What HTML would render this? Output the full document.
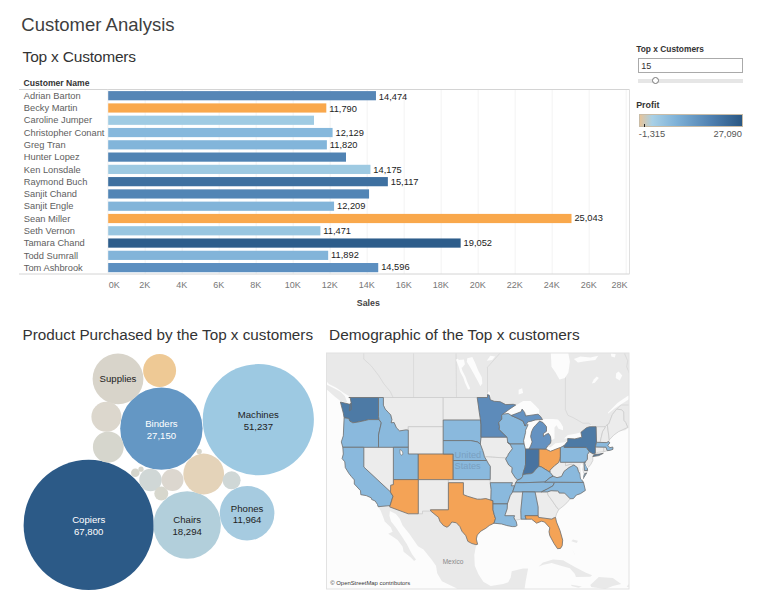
<!DOCTYPE html>
<html><head><meta charset="utf-8">
<style>
html,body{margin:0;padding:0;background:#fff;}
body{width:768px;height:608px;overflow:hidden;position:relative;font-family:"Liberation Sans", sans-serif;}
.abs{position:absolute;white-space:nowrap;}
svg text{font-family:"Liberation Sans", sans-serif;}
.nm{font-size:9.3px;fill:#5e5e5e;}
.vl{font-size:9.3px;fill:#222;}
.ax{font-size:9px;fill:#777;}
.sales{font-size:8.8px;font-weight:bold;fill:#444;}
.bl{font-size:9.6px;}
</style></head>
<body>
<div class="abs" style="left:21.3px;top:12.7px;font-size:18.5px;color:#3e3e3e;line-height:24px">Customer Analysis</div>
<div class="abs" style="left:22.6px;top:46.6px;font-size:15.5px;letter-spacing:-0.2px;color:#333;line-height:20px">Top x Customers</div>
<div class="abs" style="left:23.6px;top:77px;font-size:8.6px;font-weight:bold;color:#333;line-height:12px">Customer Name</div>
<div class="abs" style="left:636.2px;top:42.8px;font-size:8.4px;font-weight:bold;color:#333;line-height:12px">Top x Customers</div>
<div class="abs" style="left:638px;top:58.2px;width:102.6px;height:12.6px;border:1px solid #aaa;box-sizing:content-box"></div>
<div class="abs" style="left:641.2px;top:60px;font-size:9px;color:#333;line-height:12px">15</div>
<div class="abs" style="left:638px;top:79.4px;width:104.5px;height:3.5px;background:#e6e6e6"></div>
<div class="abs" style="left:651.9px;top:77.1px;width:5px;height:5px;border:1px solid #777;border-radius:50%;background:#fff"></div>
<div class="abs" style="left:636.2px;top:98.6px;font-size:8.9px;font-weight:bold;color:#333;line-height:12px">Profit</div>
<div class="abs" style="left:639px;top:114.4px;width:101.7px;height:10.2px;border:0.6px solid #c9bca6;background:linear-gradient(to right,#e6c49a 0%,#a8d0e6 12%,#7fb2d8 35%,#4f80b0 70%,#2a5783 100%)"></div>
<div class="abs" style="left:644px;top:123.5px;width:1px;height:3px;background:#222"></div>
<div class="abs" style="left:638.8px;top:128px;font-size:9.3px;color:#555;line-height:12px">-1,315</div>
<div class="abs" style="left:713.5px;top:128px;font-size:9.3px;color:#555;line-height:12px">27,090</div>
<div class="abs" style="left:22.6px;top:325.2px;font-size:15.25px;color:#333;line-height:20px">Product Purchased by the Top x customers</div>
<div class="abs" style="left:329.1px;top:325.1px;font-size:15.42px;color:#333;line-height:20px">Demographic of the Top x customers</div>
<svg class="abs" style="left:0;top:0" width="768" height="608" viewBox="0 0 768 608">
<line x1="145.2" y1="89.5" x2="145.2" y2="274" stroke="#f3f3f3" stroke-width="1"/>
<line x1="182.2" y1="89.5" x2="182.2" y2="274" stroke="#f3f3f3" stroke-width="1"/>
<line x1="219.2" y1="89.5" x2="219.2" y2="274" stroke="#f3f3f3" stroke-width="1"/>
<line x1="256.2" y1="89.5" x2="256.2" y2="274" stroke="#f3f3f3" stroke-width="1"/>
<line x1="293.2" y1="89.5" x2="293.2" y2="274" stroke="#f3f3f3" stroke-width="1"/>
<line x1="330.2" y1="89.5" x2="330.2" y2="274" stroke="#f3f3f3" stroke-width="1"/>
<line x1="367.2" y1="89.5" x2="367.2" y2="274" stroke="#f3f3f3" stroke-width="1"/>
<line x1="404.2" y1="89.5" x2="404.2" y2="274" stroke="#f3f3f3" stroke-width="1"/>
<line x1="441.2" y1="89.5" x2="441.2" y2="274" stroke="#f3f3f3" stroke-width="1"/>
<line x1="478.2" y1="89.5" x2="478.2" y2="274" stroke="#f3f3f3" stroke-width="1"/>
<line x1="515.2" y1="89.5" x2="515.2" y2="274" stroke="#f3f3f3" stroke-width="1"/>
<line x1="552.2" y1="89.5" x2="552.2" y2="274" stroke="#f3f3f3" stroke-width="1"/>
<line x1="589.2" y1="89.5" x2="589.2" y2="274" stroke="#f3f3f3" stroke-width="1"/>
<line x1="626.2" y1="89.5" x2="626.2" y2="274" stroke="#f3f3f3" stroke-width="1"/>
<line x1="19" y1="89.5" x2="629.5" y2="89.5" stroke="#d4d4d4" stroke-width="1"/>
<line x1="19" y1="274" x2="629.5" y2="274" stroke="#d4d4d4" stroke-width="1"/>
<line x1="629.5" y1="89.5" x2="629.5" y2="274" stroke="#e0e0e0" stroke-width="1"/>
<line x1="107.9" y1="89.5" x2="107.9" y2="274" stroke="#ededed" stroke-width="0.8"/>
<rect x="108.2" y="91.10" width="267.77" height="9.2" fill="#5686b6"/>
<text x="23.8" y="98.90" class="nm">Adrian Barton</text>
<text x="378.87" y="99.60" class="vl">14,474</text>
<rect x="108.2" y="103.38" width="218.11" height="9.2" fill="#f9a84c"/>
<text x="23.8" y="111.18" class="nm">Becky Martin</text>
<text x="329.21" y="111.78" class="vl">11,790</text>
<rect x="108.2" y="115.66" width="205.79" height="9.2" fill="#9fcbe3"/>
<text x="23.8" y="123.46" class="nm">Caroline Jumper</text>
<rect x="108.2" y="127.94" width="224.39" height="9.2" fill="#86b8dc"/>
<text x="23.8" y="135.74" class="nm">Christopher Conant</text>
<text x="335.49" y="136.14" class="vl">12,129</text>
<rect x="108.2" y="140.22" width="218.67" height="9.2" fill="#82b5da"/>
<text x="23.8" y="148.02" class="nm">Greg Tran</text>
<text x="329.77" y="148.32" class="vl">11,820</text>
<rect x="108.2" y="152.50" width="237.80" height="9.2" fill="#5083b3"/>
<text x="23.8" y="160.30" class="nm">Hunter Lopez</text>
<rect x="108.2" y="164.78" width="262.24" height="9.2" fill="#9ecae2"/>
<text x="23.8" y="172.58" class="nm">Ken Lonsdale</text>
<text x="373.34" y="172.68" class="vl">14,175</text>
<rect x="108.2" y="177.06" width="279.66" height="9.2" fill="#3e70a0"/>
<text x="23.8" y="184.86" class="nm">Raymond Buch</text>
<text x="390.76" y="184.86" class="vl">15,117</text>
<rect x="108.2" y="189.34" width="260.85" height="9.2" fill="#5285b5"/>
<text x="23.8" y="197.14" class="nm">Sanjit Chand</text>
<rect x="108.2" y="201.62" width="225.87" height="9.2" fill="#82b4d9"/>
<text x="23.8" y="209.42" class="nm">Sanjit Engle</text>
<text x="336.97" y="209.22" class="vl">12,209</text>
<rect x="108.2" y="213.90" width="463.30" height="9.2" fill="#f9a84c"/>
<text x="23.8" y="221.70" class="nm">Sean Miller</text>
<text x="574.40" y="221.40" class="vl">25,043</text>
<rect x="108.2" y="226.18" width="212.21" height="9.2" fill="#99c6e0"/>
<text x="23.8" y="233.98" class="nm">Seth Vernon</text>
<text x="323.31" y="233.58" class="vl">11,471</text>
<rect x="108.2" y="238.46" width="352.46" height="9.2" fill="#2d5d8b"/>
<text x="23.8" y="246.26" class="nm">Tamara Chand</text>
<text x="463.56" y="245.76" class="vl">19,052</text>
<rect x="108.2" y="250.74" width="220.00" height="9.2" fill="#82b4d9"/>
<text x="23.8" y="258.54" class="nm">Todd Sumrall</text>
<text x="331.10" y="257.94" class="vl">11,892</text>
<rect x="108.2" y="263.02" width="270.03" height="9.2" fill="#5c8fc0"/>
<text x="23.8" y="270.82" class="nm">Tom Ashbrook</text>
<text x="381.13" y="270.12" class="vl">14,596</text>
<text x="108.8" y="288.0" class="ax">0K</text>
<text x="144.8" y="288.0" class="ax" text-anchor="middle">2K</text>
<text x="181.8" y="288.0" class="ax" text-anchor="middle">4K</text>
<text x="218.8" y="288.0" class="ax" text-anchor="middle">6K</text>
<text x="255.8" y="288.0" class="ax" text-anchor="middle">8K</text>
<text x="292.8" y="288.0" class="ax" text-anchor="middle">10K</text>
<text x="329.8" y="288.0" class="ax" text-anchor="middle">12K</text>
<text x="366.8" y="288.0" class="ax" text-anchor="middle">14K</text>
<text x="403.8" y="288.0" class="ax" text-anchor="middle">16K</text>
<text x="440.8" y="288.0" class="ax" text-anchor="middle">18K</text>
<text x="477.8" y="288.0" class="ax" text-anchor="middle">20K</text>
<text x="514.8" y="288.0" class="ax" text-anchor="middle">22K</text>
<text x="551.8" y="288.0" class="ax" text-anchor="middle">24K</text>
<text x="588.8" y="288.0" class="ax" text-anchor="middle">26K</text>
<text x="627.4" y="288.0" class="ax" text-anchor="end">28K</text>
<text x="368.3" y="305.9" class="sales" text-anchor="middle">Sales</text>
<circle cx="88.7" cy="524.9" r="65.1" fill="#2c5a87"/>
<text x="88.7" y="523.1" class="bl" fill="#fff" text-anchor="middle">Copiers</text>
<text x="88.7" y="534.9" class="bl" fill="#fff" text-anchor="middle">67,800</text>
<circle cx="258.3" cy="419.7" r="55.6" fill="#9dc9e2"/>
<text x="258.3" y="417.9" class="bl" fill="#222" text-anchor="middle">Machines</text>
<text x="258.3" y="429.7" class="bl" fill="#222" text-anchor="middle">51,237</text>
<circle cx="161.4" cy="428.6" r="41.2" fill="#6497c4"/>
<text x="161.4" y="426.8" class="bl" fill="#fff" text-anchor="middle">Binders</text>
<text x="161.4" y="438.6" class="bl" fill="#fff" text-anchor="middle">27,150</text>
<circle cx="187.2" cy="525.0" r="33.7" fill="#b2cfdb"/>
<text x="187.2" y="523.2" class="bl" fill="#222" text-anchor="middle">Chairs</text>
<text x="187.2" y="535.0" class="bl" fill="#222" text-anchor="middle">18,294</text>
<circle cx="247.1" cy="513.3" r="27.3" fill="#a6cbe0"/>
<text x="247.1" y="511.5" class="bl" fill="#222" text-anchor="middle">Phones</text>
<text x="247.1" y="523.3" class="bl" fill="#222" text-anchor="middle">11,964</text>
<circle cx="118.0" cy="378.9" r="25.4" fill="#d8d4ca"/>
<text x="118.0" y="382.2" class="bl" fill="#222" text-anchor="middle">Supplies</text>
<circle cx="159.6" cy="370.5" r="16.5" fill="#eec995"/>
<circle cx="106.4" cy="416.8" r="15.0" fill="#dcd7cd"/>
<circle cx="108.3" cy="447.0" r="15.4" fill="#d6d6cd"/>
<circle cx="203.7" cy="474.0" r="20.4" fill="#e4d3b9"/>
<circle cx="150.5" cy="480.0" r="11.3" fill="#d0d7d6"/>
<circle cx="172.5" cy="480.0" r="11.0" fill="#dcd7cf"/>
<circle cx="161.3" cy="493.6" r="7.0" fill="#d7d7cd"/>
<circle cx="231.6" cy="480.3" r="9.0" fill="#cfd7d6"/>
<circle cx="135.3" cy="472.8" r="4.3" fill="#d5d5cc"/>
<circle cx="141.0" cy="469.2" r="2.6" fill="#d5d5cc"/>
<circle cx="199.2" cy="451.4" r="2.6" fill="#d5d5cc"/>
<defs><clipPath id="mc"><rect x="326.5" y="353" width="302.5" height="236"/></clipPath></defs>
<rect x="326.5" y="353" width="302.5" height="236" fill="#fcfcfc"/>
<g clip-path="url(#mc)">
<path d="M264.2 281.9L662.6 281.9L662.6 418.2L640.1 422.5L632.7 426.7L628.2 428.1L625.2 430.2L618.7 431.6L613.8 435.1L611.3 436.5L609.3 439.9L608.8 441.6L609.8 442.9L607.8 445.3L609.8 447.7L612.8 447.0L613.0 449.3L610.3 450.3L607.3 450.7L603.3 452.0L598.3 452.3L594.3 454.0L592.8 456.6L592.8 460.5L590.8 464.4L588.4 467.3L587.4 468.3L587.6 470.5L586.6 473.1L583.1 478.7L582.9 479.6L583.5 482.4L585.4 490.4L580.4 493.7L576.4 495.0L573.4 498.6L570.2 498.8L566.9 502.8L563.0 506.3L558.7 509.6L556.5 513.9L555.5 517.4L556.5 522.0L560.0 530.6L562.7 540.1L562.2 545.7L560.5 548.4L557.5 548.7L554.0 543.5L549.8 535.7L549.0 531.7L549.8 527.8L544.5 522.0L541.5 521.2L536.6 523.2L531.6 519.2L526.1 519.2L521.1 519.2L515.2 520.3L516.1 521.2L517.1 525.5L515.2 526.6L512.2 526.6L506.7 525.5L501.7 524.0L494.0 523.2L489.3 525.5L485.8 528.3L480.8 531.2L477.3 535.1L476.3 539.0L477.6 544.3L475.8 546.8L474.3 555.0L474.8 565.8L478.3 573.9L483.3 581.8L490.7 586.0L503.2 583.9L508.2 582.3L510.7 577.6L511.7 571.2L523.1 568.5L528.1 568.5L525.6 581.8L524.1 592.3L524.1 628.1L463.9 628.1L463.9 593.0L455.9 588.1L441.9 581.3L437.2 573.3L436.0 565.8L431.5 559.4L423.5 549.5L418.0 546.2L409.1 533.4L402.6 525.5L399.6 518.6L395.9 513.9L389.9 511.0L389.4 515.7L391.1 521.5L395.9 527.5L402.1 536.8L406.8 544.0L410.1 550.6L412.1 554.2L416.0 559.4L414.1 561.0L411.1 557.7L403.6 551.7L402.6 546.8L397.6 540.1L392.1 536.2L388.2 533.7L392.6 531.7L390.7 527.2L384.7 521.5L383.7 518.6L380.7 510.7L378.1 506.7L377.5 504.5L375.2 501.0L371.7 499.5L371.2 497.8L366.2 495.6L360.8 494.7L360.5 490.7L354.3 484.0L354.3 479.9L351.3 476.5L348.8 473.3L345.3 467.6L344.8 461.8L342.1 458.6L343.3 454.0L342.8 447.3L341.3 441.9L343.3 435.8L344.1 417.8L343.3 413.1L340.4 402.0L348.3 403.9L350.1 404.3L351.1 402.8L350.1 397.5L348.8 396.0L344.3 393.3L339.9 390.2L335.9 387.5L328.9 384.0L324.9 379.6L322.9 371.6L318.9 364.2L313.0 354.9L309.0 340.1Z" fill="#e9e9e9"/>
<path d="M347.3 402.4L340.4 400.9L334.9 396.7L327.9 390.6L322.4 385.9L321.9 383.6L327.4 385.0L335.4 388.9L340.4 391.8L344.8 396.0Z" fill="#e9e9e9"/>
<path d="M538.6 566.4L543.0 562.6L553.0 559.6L563.0 560.2L575.4 567.2L585.4 572.5L592.1 575.2L590.3 576.8L575.9 577.0L574.9 573.9L569.9 568.3L560.0 565.6L551.5 562.9L543.5 564.8Z" fill="#e9e9e9"/>
<path d="M590.3 584.9L598.8 577.0L612.8 578.1L621.2 583.9L612.8 586.0L605.3 589.1L591.3 587.0Z" fill="#e9e9e9"/>
<path d="M571.4 584.7L581.9 586.5L578.4 587.8L571.4 586.0Z" fill="#e9e9e9"/>
<path d="M628.2 584.4L634.7 584.9L633.7 587.0L626.7 587.0Z" fill="#e9e9e9"/>
<path d="M572.9 539.6L577.9 540.7L576.9 542.9L571.4 541.3Z" fill="#e9e9e9"/>
<path d="M571.9 548.4L574.4 553.4L575.4 556.1L573.4 551.7Z" fill="#e9e9e9"/>
<path d="M363.8 302.5L363.8 359.1L371.2 365.8L378.7 375.6L383.7 383.6L390.2 391.4L393.1 397.5" fill="none" stroke="#d0d0d0" stroke-width="0.6"/>
<path d="M413.6 397.5L413.6 302.5" fill="none" stroke="#d0d0d0" stroke-width="0.6"/>
<path d="M456.5 397.5L455.9 340.1" fill="none" stroke="#d0d0d0" stroke-width="0.6"/>
<path d="M487.5 394.6L487.5 367.2L518.1 332.9" fill="none" stroke="#d0d0d0" stroke-width="0.6"/>
<path d="M565.4 374.0L565.4 409.5L567.9 415.3L572.9 417.5L577.9 420.3L582.9 423.2L588.9 423.2L591.1 425.3" fill="none" stroke="#d0d0d0" stroke-width="0.6"/>
<path d="M605.3 426.7L607.3 424.6L608.8 423.9L612.3 414.6L616.7 409.1L621.7 409.8L623.7 412.0L623.8 420.3L625.7 422.5L627.7 427.4" fill="none" stroke="#d0d0d0" stroke-width="0.6"/>
<path d="M616.7 409.1L621.2 405.0L632.7 405.0" fill="none" stroke="#d0d0d0" stroke-width="0.6"/>
<path d="M629.7 374.0L626.7 366.7L627.7 360.8L624.7 354.0L625.7 348.9" fill="none" stroke="#d0d0d0" stroke-width="0.6"/>
<path d="M487.5 397.5L348.8 397.5" fill="none" stroke="#d0d0d0" stroke-width="0.6"/>
<path d="M363.8 447.3L393.4 447.3L393.4 479.6L393.4 484.6L390.7 485.2L390.5 491.9L363.8 467.0Z" fill="#ececec" stroke="#c8c8c8" stroke-width="0.7"/>
<path d="M383.4 397.5L443.2 397.5L443.2 426.7L408.3 426.7L408.3 430.2L406.1 429.9L399.6 430.9L396.4 427.8L394.1 422.5L391.1 422.8L391.9 419.6L390.7 414.9L388.7 412.8L385.2 409.1L383.4 405.2L383.4 397.5Z" fill="#ececec" stroke="#c8c8c8" stroke-width="0.7"/>
<path d="M408.3 426.7L443.2 426.7L443.2 454.0L408.3 454.0Z" fill="#ececec" stroke="#c8c8c8" stroke-width="0.7"/>
<path d="M418.3 479.6L448.4 479.6L448.4 509.8L430.4 509.8L430.8 511.1L422.5 511.1L422.5 513.8L418.3 513.8Z" fill="#ececec" stroke="#c8c8c8" stroke-width="0.7"/>
<path d="M443.2 397.5L477.2 397.5L478.3 405.0L479.3 412.4L480.5 420.0L443.2 420.0Z" fill="#ececec" stroke="#c8c8c8" stroke-width="0.7"/>
<path d="M448.4 479.6L490.2 479.6L491.1 489.5L490.8 500.1L485.8 498.6L480.8 499.2L477.3 499.2L473.3 498.0L467.3 496.2L463.4 494.6L463.4 482.7L448.4 482.7Z" fill="#ececec" stroke="#c8c8c8" stroke-width="0.7"/>
<path d="M481.0 437.2L507.1 437.2L507.7 442.6L510.0 444.0L512.4 448.7L508.4 454.0L507.7 455.9L506.1 458.0L484.4 456.7L483.8 454.0L482.8 450.7L480.3 444.0Z" fill="#ececec" stroke="#c8c8c8" stroke-width="0.7"/>
<path d="M484.4 456.7L506.1 458.0L505.7 459.2L508.7 465.0L512.2 467.6L511.7 472.1L515.2 477.7L517.6 479.9L515.6 482.7L514.7 485.8L511.3 485.8L512.4 482.7L490.2 482.7L490.2 479.6L490.3 466.3L488.5 463.8L486.7 460.5L484.4 456.7Z" fill="#ececec" stroke="#c8c8c8" stroke-width="0.7"/>
<path d="M507.4 503.9L510.2 495.6L512.7 491.9L522.1 491.9L522.6 492.5L520.8 510.4L521.1 519.2L515.2 520.3L513.9 517.7L514.5 515.7L504.9 515.7L505.2 514.5L507.2 508.7Z" fill="#ececec" stroke="#c8c8c8" stroke-width="0.7"/>
<path d="M535.1 492.0L547.5 491.9L548.0 495.0L552.0 500.4L556.0 506.3L558.7 509.6L556.5 513.9L555.5 517.4L553.0 518.3L552.0 519.2L538.6 517.4L538.1 515.7L538.1 506.9Z" fill="#ececec" stroke="#c8c8c8" stroke-width="0.7"/>
<path d="M547.5 491.9L551.0 490.7L557.8 491.0L558.5 491.3L559.1 493.0L564.6 493.1L570.2 498.8L566.9 502.8L563.0 506.3L558.7 509.6L556.0 506.3L552.0 500.4L548.0 495.0Z" fill="#ececec" stroke="#c8c8c8" stroke-width="0.7"/>
<path d="M550.0 472.3L553.1 476.2L557.0 477.7L561.5 476.5L564.0 471.4L568.9 467.6L573.9 465.0L574.3 464.9L571.2 464.1L565.5 465.6L565.5 462.3L560.4 462.3L560.4 456.3L560.0 458.6L558.7 462.5L554.5 465.7L550.0 470.2Z" fill="#ececec" stroke="#c8c8c8" stroke-width="0.7"/>
<path d="M565.5 462.3L584.0 462.3L584.4 470.5L587.6 470.5L586.6 473.1L584.6 473.7L582.9 471.4L581.4 465.7L580.4 470.8L581.4 474.0L578.4 471.4L577.4 467.6L573.9 465.0L574.3 464.9L571.2 464.1L565.5 465.6Z" fill="#ececec" stroke="#c8c8c8" stroke-width="0.7"/>
<path d="M589.4 451.7L593.3 454.0L592.8 456.6L592.8 460.5L590.8 464.4L588.4 467.3L585.4 463.1L587.4 459.2L587.4 454.6Z" fill="#ececec" stroke="#c8c8c8" stroke-width="0.7"/>
<path d="M595.3 447.0L603.8 447.2L603.8 451.7L598.3 452.3L594.3 454.0L595.3 453.3Z" fill="#ececec" stroke="#c8c8c8" stroke-width="0.7"/>
<path d="M603.8 447.2L605.9 447.2L607.3 450.7L603.8 451.7Z" fill="#ececec" stroke="#c8c8c8" stroke-width="0.7"/>
<path d="M596.1 426.7L605.3 426.7L605.3 427.4L602.6 431.6L600.1 442.4L596.5 442.3Z" fill="#ececec" stroke="#c8c8c8" stroke-width="0.7"/>
<path d="M605.3 426.7L607.3 424.6L609.3 439.9L608.8 441.6L606.3 442.6L600.1 442.4L602.6 431.6L605.3 427.4Z" fill="#ececec" stroke="#c8c8c8" stroke-width="0.7"/>
<path d="M607.3 424.6L608.8 423.9L612.3 414.6L616.7 409.1L621.7 409.8L623.7 412.0L623.8 420.3L625.7 422.5L627.7 427.4L618.7 431.6L613.8 435.1L609.3 439.9Z" fill="#ececec" stroke="#c8c8c8" stroke-width="0.7"/>
<path d="M502.7 414.2L508.2 413.1L513.2 414.9L518.1 413.5L521.1 411.3L522.1 409.1L524.6 412.4L528.1 415.7L533.1 414.7L538.1 414.0L540.1 416.0L539.1 412.8L539.1 409.5L535.6 405.8L530.6 400.9L523.1 400.9L516.6 405.0L510.2 408.7L505.7 411.3Z" fill="#fcfcfc"/>
<path d="M525.5 449.3L529.0 448.9L530.6 446.0L532.1 441.9L530.6 436.5L531.6 431.6L533.6 427.4L535.6 425.3L539.6 421.1L535.1 420.0L530.6 421.4L528.1 421.8L525.1 426.0L523.1 429.5L525.6 432.3L523.6 440.6L524.1 444.0Z" fill="#fcfcfc"/>
<path d="M551.0 440.6L550.5 436.5L548.5 433.4L546.0 434.4L543.5 436.5L543.3 433.7L546.5 431.3L546.5 426.7L543.0 422.5L539.6 421.1L542.5 419.6L545.5 418.9L553.0 418.9L558.0 419.6L560.5 422.5L563.0 426.7L563.0 430.2L558.5 428.8L556.5 425.3L554.5 427.4L554.5 433.7L554.5 438.5Z" fill="#fcfcfc"/>
<path d="M545.8 449.1L550.5 451.3L558.0 448.3L560.4 447.5L564.2 445.5L567.7 441.6L563.0 442.6L555.5 443.3L550.5 447.3L547.5 447.0Z" fill="#fcfcfc"/>
<path d="M567.7 438.5L574.9 438.9L581.9 437.2L580.9 432.3L575.4 433.7L567.9 435.1L564.0 438.5Z" fill="#fcfcfc"/>
<path d="M580.9 432.3L586.4 427.8L591.3 425.0L591.8 426.4L586.4 428.8L581.4 433.4Z" fill="#fcfcfc"/>
<path d="M607.8 412.8L617.7 402.8L627.7 396.0L640.1 390.6L640.1 395.2L630.2 398.6L615.2 408.0L608.3 413.5Z" fill="#fcfcfc"/>
<path d="M467.3 358.3L472.3 357.0L475.3 363.3L478.3 370.8L481.8 377.2L482.3 383.6L480.3 386.3L478.3 382.0L474.3 374.8L470.3 367.5L466.8 361.7Z" fill="#fcfcfc"/>
<path d="M486.8 360.8L492.2 360.0L495.2 356.6L490.3 355.8Z" fill="#fcfcfc"/>
<path d="M458.4 360.0L463.9 359.6L464.9 364.2L461.9 367.9L458.9 365.8Z" fill="#fcfcfc"/>
<path d="M487.3 394.5L490.7 396.7L489.8 392.1L488.3 391.4Z" fill="#fcfcfc"/>
<path d="M518.6 394.5L523.1 392.9L522.1 388.3L518.6 389.8Z" fill="#fcfcfc"/>
<path d="M551.5 366.7L555.5 372.4L559.5 379.6L565.0 378.0L568.4 372.4L569.9 361.7L567.9 350.6L550.5 347.1Z" fill="#fcfcfc"/>
<path d="M573.9 359.1L580.4 356.6L590.3 357.5L598.3 355.8L595.3 360.0L585.4 361.2L577.9 362.5Z" fill="#fcfcfc"/>
<path d="M596.8 376.4L598.8 378.0L594.8 382.8L591.8 383.6L593.8 379.6Z" fill="#fcfcfc"/>
<path d="M618.7 371.6L622.2 375.6L619.7 380.4L615.7 378.0L616.2 373.2Z" fill="#fcfcfc"/>
<path d="M610.8 353.2L615.7 354.0L614.8 357.5L611.3 356.6Z" fill="#fcfcfc"/>
<path d="M468.8 388.3L466.3 382.8L464.4 377.2L461.4 371.6L459.9 366.7L458.4 362.5L457.4 360.0" fill="none" stroke="#fcfcfc" stroke-width="2.4" stroke-linecap="round" stroke-linejoin="round"/>
<path d="M348.8 397.5L378.5 397.5L378.5 416.6L379.1 419.6L368.8 419.6L364.3 420.7L357.8 422.1L352.8 422.8L349.8 421.1L348.8 418.5L344.1 417.8L343.3 413.1L340.4 402.0L348.3 403.9L350.1 404.3L351.1 402.8L350.1 397.5Z" fill="#4d7aa5" stroke="#6e6e6e" stroke-width="0.8" stroke-linejoin="round"/>
<path d="M379.1 419.6L368.8 419.6L364.3 420.7L357.8 422.1L352.8 422.8L349.8 421.1L348.8 418.5L344.1 417.8L343.3 435.8L341.3 441.9L342.8 447.3L378.5 447.3L378.5 435.1L379.2 432.0L381.3 422.8Z" fill="#8ab9dd" stroke="#6e6e6e" stroke-width="0.8" stroke-linejoin="round"/>
<path d="M342.8 447.3L363.8 447.3L363.8 467.0L390.5 491.9L390.8 492.7L393.0 496.2L390.1 505.6L378.1 506.7L377.5 504.5L375.2 501.0L371.7 499.5L371.2 497.8L366.2 495.6L360.8 494.7L360.5 490.7L354.3 484.0L354.3 479.9L351.3 476.5L348.8 473.3L345.3 467.6L344.8 461.8L342.1 458.6L343.3 454.0L342.8 447.3Z" fill="#8ab9dd" stroke="#6e6e6e" stroke-width="0.8" stroke-linejoin="round"/>
<path d="M378.5 397.5L383.4 397.5L383.4 405.2L385.2 409.1L388.7 412.8L390.7 414.9L391.9 419.6L391.1 422.8L394.1 422.5L396.4 427.8L399.6 430.9L406.1 429.9L408.3 430.2L408.3 447.3L378.5 447.3L378.5 435.1L379.2 432.0L381.3 422.8L379.1 419.6L378.5 416.6Z" fill="#8ab9dd" stroke="#6e6e6e" stroke-width="0.8" stroke-linejoin="round"/>
<path d="M393.4 447.3L408.3 447.3L408.3 454.0L418.3 454.0L418.3 479.6L393.4 479.6Z" fill="#8ab9dd" stroke="#6e6e6e" stroke-width="0.8" stroke-linejoin="round"/>
<path d="M393.4 479.6L418.3 479.6L418.3 513.8L408.2 513.8L389.6 506.9L390.1 505.6L393.0 496.2L390.8 492.7L390.5 491.9L390.7 485.2L393.4 484.6L393.4 479.6Z" fill="#f4a356" stroke="#6e6e6e" stroke-width="0.8" stroke-linejoin="round"/>
<path d="M418.3 454.0L453.2 454.0L453.2 479.6L418.3 479.6Z" fill="#f4a356" stroke="#6e6e6e" stroke-width="0.8" stroke-linejoin="round"/>
<path d="M443.2 420.0L480.5 420.0L481.0 424.6L481.0 437.2L480.3 444.0L477.3 441.9L470.8 440.6L443.2 440.6Z" fill="#8ab9dd" stroke="#6e6e6e" stroke-width="0.8" stroke-linejoin="round"/>
<path d="M443.2 440.6L470.8 440.6L477.3 441.9L480.3 444.0L482.8 450.7L483.8 454.0L484.4 456.7L486.7 460.5L453.2 460.5L453.2 454.0L443.2 454.0Z" fill="#8ab9dd" stroke="#6e6e6e" stroke-width="0.8" stroke-linejoin="round"/>
<path d="M453.2 460.5L486.7 460.5L488.5 463.8L490.3 466.3L490.2 479.6L453.2 479.6Z" fill="#8ab9dd" stroke="#6e6e6e" stroke-width="0.8" stroke-linejoin="round"/>
<path d="M448.4 482.7L463.4 482.7L463.4 494.6L467.3 496.2L473.3 498.0L477.3 499.2L480.8 499.2L485.8 498.6L490.8 500.1L493.0 500.7L493.0 503.9L493.0 509.8L494.2 514.5L495.5 518.6L494.0 523.2L489.3 525.5L485.8 528.3L480.8 531.2L477.3 535.1L476.3 539.0L477.6 544.3L475.8 544.6L471.8 543.5L467.8 541.3L465.8 535.7L461.9 531.2L459.9 526.6L456.4 522.8L451.9 522.0L448.9 526.0L446.9 527.2L443.4 525.5L440.0 521.5L438.5 517.4L430.8 511.1L430.4 509.8L448.4 509.8Z" fill="#f4a356" stroke="#6e6e6e" stroke-width="0.8" stroke-linejoin="round"/>
<path d="M477.2 397.5L487.5 397.5L487.5 394.6L489.3 395.2L490.3 399.8L494.2 401.3L500.2 401.7L505.7 404.6L513.2 404.3L515.7 405.0L510.2 408.7L502.7 414.2L501.7 415.3L501.8 419.1L498.7 422.5L499.5 426.7L499.2 429.5L507.1 437.2L481.0 437.2L481.0 424.6L480.5 420.0L479.3 412.4L478.3 405.0Z" fill="#5d8bba" stroke="#6e6e6e" stroke-width="0.8" stroke-linejoin="round"/>
<path d="M490.2 482.7L512.4 482.7L511.3 485.8L514.7 485.8L512.7 491.9L510.2 495.6L507.4 503.9L493.0 503.9L493.0 500.7L490.8 500.1L491.1 489.5Z" fill="#8ab9dd" stroke="#6e6e6e" stroke-width="0.8" stroke-linejoin="round"/>
<path d="M493.0 503.9L507.4 503.9L507.2 508.7L505.2 514.5L504.9 515.7L514.5 515.7L513.9 517.7L515.2 520.3L516.1 521.2L517.1 525.5L515.2 526.6L512.2 526.6L506.7 525.5L501.7 524.0L494.0 523.2L495.5 518.6L494.2 514.5L493.0 509.8L493.0 503.9Z" fill="#8ab9dd" stroke="#6e6e6e" stroke-width="0.8" stroke-linejoin="round"/>
<path d="M501.8 419.1L501.7 415.3L502.7 414.2L508.2 413.5L511.2 415.5L518.1 418.5L523.1 421.1L525.1 426.0L526.6 425.0L528.1 424.6L525.6 430.2L525.6 432.3L523.6 440.6L524.1 444.0L510.0 444.0L507.7 442.6L507.1 437.2L499.2 429.5L499.5 426.7L498.7 422.5Z" fill="#8ab9dd" stroke="#6e6e6e" stroke-width="0.8" stroke-linejoin="round"/>
<path d="M510.0 444.0L524.1 444.0L525.5 449.3L525.5 464.4L524.9 467.9L523.6 471.4L522.9 474.6L522.6 476.5L520.6 479.0L517.6 479.9L515.2 477.7L511.7 472.1L512.2 467.6L508.7 465.0L505.7 459.2L506.1 458.0L507.7 455.9L508.4 454.0L512.4 448.7L510.0 444.0L507.7 442.6Z" fill="#8ab9dd" stroke="#6e6e6e" stroke-width="0.8" stroke-linejoin="round"/>
<path d="M525.5 448.9L539.1 448.9L539.0 466.3L536.1 468.9L533.1 472.7L530.6 473.7L526.6 474.0L522.9 474.6L523.6 471.4L524.9 467.9L525.5 464.4Z" fill="#4873a0" stroke="#6e6e6e" stroke-width="0.8" stroke-linejoin="round"/>
<path d="M539.1 448.9L545.8 449.1L550.5 451.3L558.0 448.3L560.4 447.5L560.4 456.3L560.0 458.6L558.7 462.5L554.5 465.7L550.0 470.2L550.0 472.3L545.0 469.2L541.5 467.0L539.0 466.3Z" fill="#f4a356" stroke="#6e6e6e" stroke-width="0.8" stroke-linejoin="round"/>
<path d="M529.0 448.9L539.1 448.9L545.8 449.1L547.5 446.0L550.5 443.3L551.0 440.6L550.5 436.5L548.5 433.4L546.0 434.4L543.5 436.5L543.3 433.7L546.5 431.3L546.5 426.7L543.0 422.5L539.6 421.1L535.6 425.3L533.6 427.4L531.6 431.6L530.6 436.5L532.1 441.9L530.6 446.0Z" fill="#6592c1" stroke="#6e6e6e" stroke-width="0.8" stroke-linejoin="round"/>
<path d="M511.2 415.5L515.6 413.8L521.1 411.7L522.1 409.1L524.6 412.4L525.6 416.0L533.1 414.9L538.1 414.2L540.5 416.4L542.5 419.6L538.1 419.6L535.1 420.0L530.6 421.4L528.1 421.8L525.1 426.0L523.1 421.1L518.1 418.5Z" fill="#6592c1" stroke="#6e6e6e" stroke-width="0.8" stroke-linejoin="round"/>
<path d="M515.6 482.7L522.9 482.7L544.6 482.1L550.0 477.7L553.1 476.2L550.0 472.3L545.0 469.2L541.5 467.0L539.0 466.3L536.1 468.9L533.1 472.7L530.6 473.7L526.6 474.0L522.9 474.6L522.6 476.5L520.6 479.0L517.6 479.9Z" fill="#8ab9dd" stroke="#6e6e6e" stroke-width="0.8" stroke-linejoin="round"/>
<path d="M512.7 491.9L522.1 491.9L541.4 491.9L547.5 488.9L553.0 485.8L554.6 482.2L544.6 482.1L522.9 482.7L515.6 482.7L514.7 485.8Z" fill="#8ab9dd" stroke="#6e6e6e" stroke-width="0.8" stroke-linejoin="round"/>
<path d="M522.1 491.9L535.1 492.0L538.1 506.9L538.1 515.7L525.1 515.7L526.1 519.2L521.1 519.2L520.8 510.4L522.6 492.5Z" fill="#8ab9dd" stroke="#6e6e6e" stroke-width="0.8" stroke-linejoin="round"/>
<path d="M525.1 515.7L538.1 515.7L538.6 517.4L552.0 519.2L553.0 518.3L555.5 517.4L556.5 522.0L560.0 530.6L562.7 540.1L562.2 545.7L560.5 548.4L557.5 548.7L554.0 543.5L549.8 535.7L549.0 531.7L549.8 527.8L544.5 522.0L541.5 521.2L536.6 523.2L531.6 519.2L526.1 519.2Z" fill="#f4a356" stroke="#6e6e6e" stroke-width="0.8" stroke-linejoin="round"/>
<path d="M541.4 491.9L547.5 491.9L551.0 490.7L557.8 491.0L558.5 491.3L559.1 493.0L564.6 493.1L570.2 498.8L573.4 498.6L576.4 495.0L580.4 493.7L585.4 490.4L583.5 482.4L554.6 482.2L553.0 485.8L547.5 488.9Z" fill="#8ab9dd" stroke="#6e6e6e" stroke-width="0.8" stroke-linejoin="round"/>
<path d="M583.5 482.4L554.6 482.2L544.6 482.1L550.0 477.7L553.1 476.2L557.0 477.7L561.5 476.5L564.0 471.4L568.9 467.6L573.9 465.0L577.4 467.6L578.4 471.4L580.1 474.0L580.4 478.1L581.4 479.6Z" fill="#8ab9dd" stroke="#6e6e6e" stroke-width="0.8" stroke-linejoin="round"/>
<path d="M584.6 473.7L586.6 473.1L583.1 478.7L582.9 477.7Z" fill="#8ab9dd" stroke="#6e6e6e" stroke-width="0.8" stroke-linejoin="round"/>
<path d="M584.0 462.3L585.4 461.6L584.9 463.1L587.4 468.3L587.6 470.5L584.4 470.5Z" fill="#8ab9dd" stroke="#6e6e6e" stroke-width="0.8" stroke-linejoin="round"/>
<path d="M560.4 447.5L564.2 445.5L564.2 447.3L586.1 447.3L587.4 448.7L589.4 451.7L587.4 454.6L587.4 459.2L585.4 461.6L584.0 462.3L560.4 462.3Z" fill="#8ab9dd" stroke="#6e6e6e" stroke-width="0.8" stroke-linejoin="round"/>
<path d="M564.2 447.3L586.1 447.3L587.4 448.7L589.4 451.7L593.3 454.0L595.3 453.3L595.3 447.0L596.5 442.3L596.1 426.7L589.4 426.7L586.4 427.8L580.9 432.3L581.9 437.2L574.9 438.9L567.7 438.5L567.7 441.3L564.2 445.5Z" fill="#4d7aa5" stroke="#6e6e6e" stroke-width="0.8" stroke-linejoin="round"/>
<path d="M592.8 456.6L598.8 455.6L603.3 453.3L599.3 454.0L594.3 454.6Z" fill="#4d7aa5" stroke="#6e6e6e" stroke-width="0.8" stroke-linejoin="round"/>
<path d="M596.5 442.3L606.3 442.6L608.8 441.6L609.8 442.9L607.8 445.3L609.8 447.7L612.8 447.0L613.0 449.3L610.3 450.3L607.3 450.7L605.9 447.2L595.3 447.0Z" fill="#8ab9dd" stroke="#6e6e6e" stroke-width="0.8" stroke-linejoin="round"/>
<path d="M399.9 449.7L401.4 450.3L402.6 452.0L402.9 454.3L401.4 455.3L400.1 453.3Z" fill="#fcfcfc" stroke="#6e6e6e" stroke-width="0.6"/>
<path d="M581.1 463.8L582.9 465.0L582.4 469.5L583.4 474.0L583.1 478.7L581.1 479.6L580.6 475.9L580.4 471.4L580.1 466.3Z" fill="#fcfcfc"/>
<path d="M585.1 463.0L587.1 467.9L588.4 467.3L586.1 463.4Z" fill="#fcfcfc"/>
<path d="M350.1 404.3L349.3 410.9L351.3 409.5L351.1 402.8" fill="none" stroke="#6e6e6e" stroke-width="0.8"/>
<text x="454.6" y="458" font-size="9.2px" fill="#6f8fae" opacity="0.6">United</text>
<text x="454.6" y="468.6" font-size="9.2px" fill="#6f8fae" opacity="0.6">States</text>
<text x="453" y="563.5" font-size="6.5px" fill="#888" text-anchor="middle">Mexico</text>
<text x="330.3" y="584.8" font-size="5.9px" fill="#3a3a3a">© OpenStreetMap contributors</text>
</g>
<rect x="326.5" y="353" width="302.5" height="236" fill="none" stroke="#e2e2e2" stroke-width="1"/>
</svg>
</body></html>
